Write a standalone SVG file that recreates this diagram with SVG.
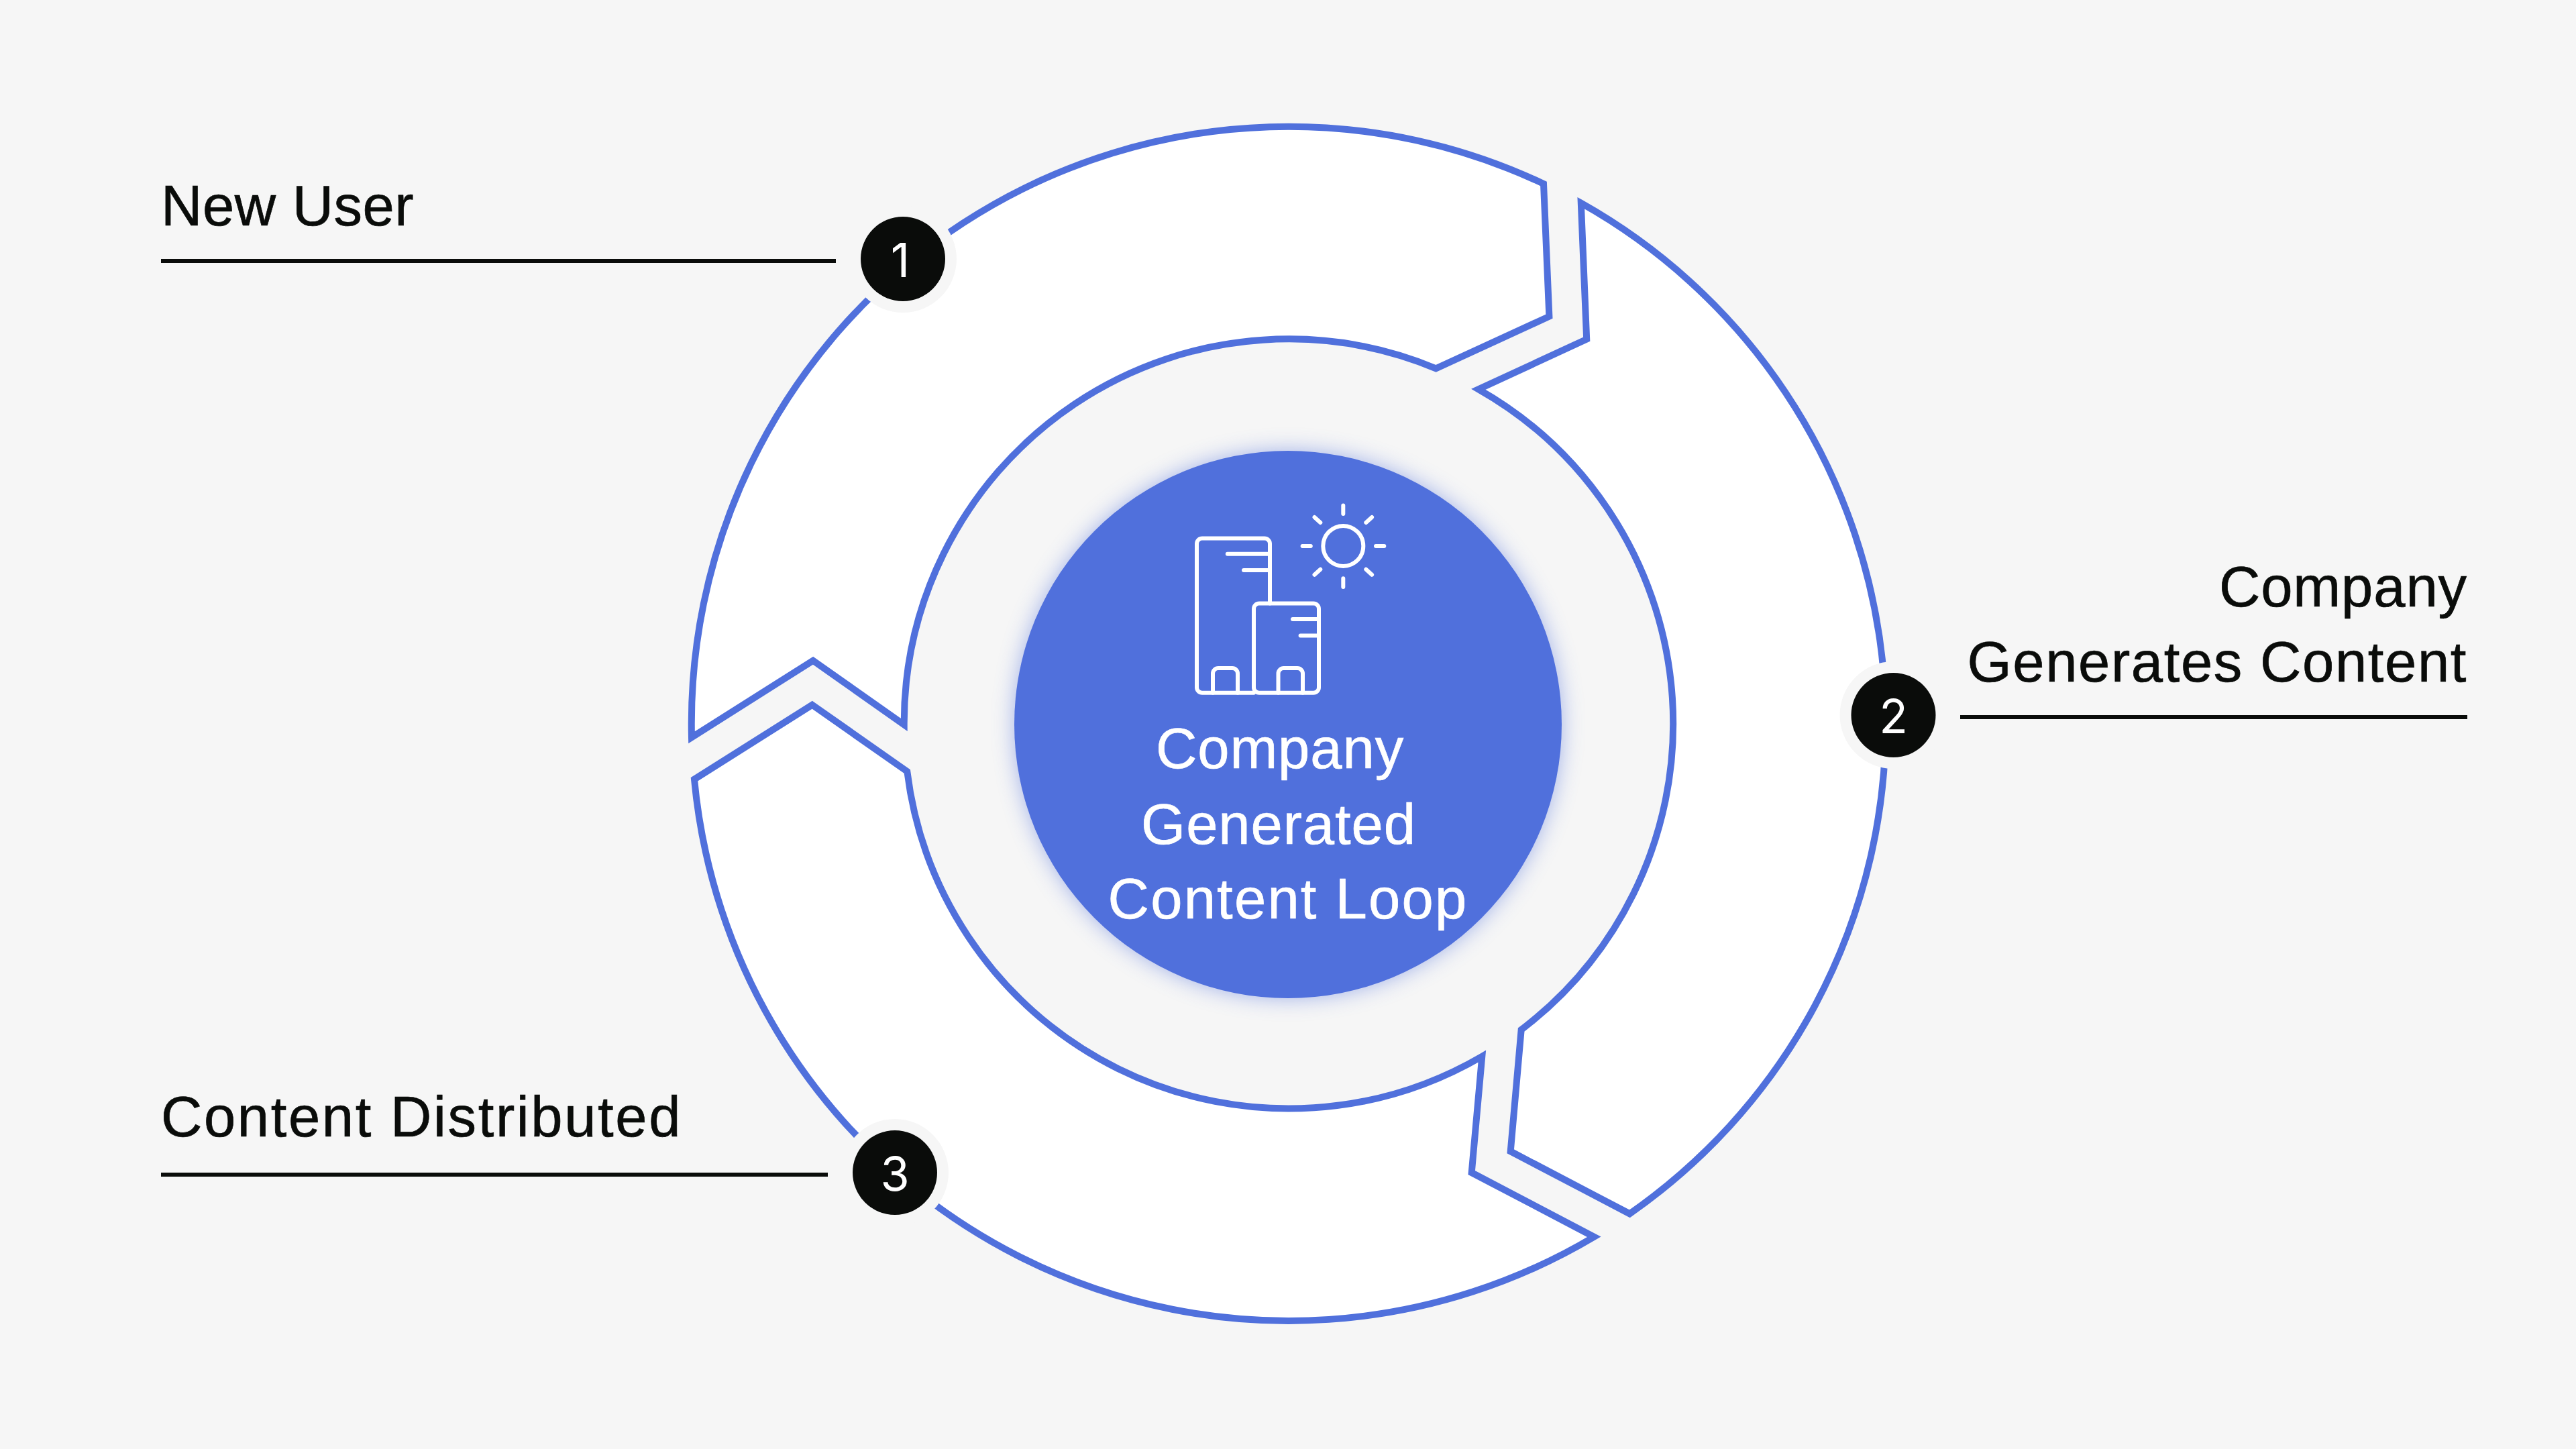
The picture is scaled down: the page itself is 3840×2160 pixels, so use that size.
<svg xmlns="http://www.w3.org/2000/svg" width="3840" height="2160" viewBox="0 0 3840 2160">
<style>
.seg{fill:#fff;stroke:#5070dc;stroke-width:10;stroke-miterlimit:20}
.ink{fill:none;stroke:#fff;stroke-width:6;stroke-linecap:round;stroke-linejoin:round}
.lbl{font-family:"Liberation Sans",Arial,sans-serif;font-size:85px;fill:#0a0c0a;stroke:#0a0c0a;stroke-width:.7px}
.mid{font-family:"Liberation Sans",Arial,sans-serif;font-size:85px;fill:#fff;stroke:#fff;stroke-width:.7px;text-anchor:middle}
.num{font-family:Inter,"Liberation Sans",sans-serif;font-size:70px;fill:#fff;text-anchor:middle}
.halo{fill:#f6f6f6}.dot{fill:#0a0c0a}
.rule{stroke:#0a0c0a;stroke-width:6}
</style>
<defs><filter id="glow" x="-20%" y="-20%" width="140%" height="140%"><feGaussianBlur stdDeviation="16"/></filter></defs>
<rect width="3840" height="2160" fill="#f6f6f6"/>
<g id="connectors">
<line class="rule" x1="240" y1="389" x2="1246" y2="389"/>
<line class="rule" x1="2922" y1="1069" x2="3678" y2="1069"/>
<line class="rule" x1="240" y1="1751" x2="1234" y2="1751"/>
</g>
<g id="ring">
<path id="segment-1" class="seg" d="M2301 274A890 890 0 0 0 1031 1099.3L1212 984.7L1347.7 1080.3A573 573 0 0 1 2140.6 549.3L2309.4 471.7Z"/>
<path id="segment-2" class="seg" d="M2356.8 302.7A890 890 0 0 1 2429.3 1809.3L2251.7 1716.3L2267.7 1535A573 573 0 0 0 2204 580.3L2365.2 505.7Z"/>
<path id="segment-3" class="seg" d="M2376.3 1843.7A890 890 0 0 1 1035 1161.7L1210.7 1050.7L1352.3 1150A573 573 0 0 0 2209.3 1574.7L2193.7 1748Z"/>
</g>
<g id="center">
<circle cx="1920" cy="1080" r="408" fill="#5070dc" opacity=".5" filter="url(#glow)"/>
<circle cx="1920" cy="1080" r="408" fill="#5070dc"/>
<g id="icon">
<path class="ink" d="M1869 1032.7H1792a8 8 0 0 1-8-8V810.5a8 8 0 0 1 8-8H1885a8 8 0 0 1 8 8V899.5"/>
<path class="ink" d="M1877 899.5H1958a8 8 0 0 1 8 8V1024.7a8 8 0 0 1-8 8H1877a8 8 0 0 1-8-8V907.5a8 8 0 0 1 8-8Z"/>
<path class="ink" d="M1829.8 825.8H1893M1854 850H1893M1927 923H1966M1938.6 947.5H1966"/>
<path class="ink" d="M1808 1032.7V1004a8 8 0 0 1 8-8H1837a8 8 0 0 1 8 8V1032.7M1905.5 1032.7V1004a8 8 0 0 1 8-8H1934a8 8 0 0 1 8 8V1032.7"/>
<circle class="ink" cx="2002.3" cy="813.9" r="30"/>
<path class="ink" d="M2002.3 753.5V766M2002.3 862.3V875M1941.6 813.9H1953.8M2051 813.9H2063.3M1959.5 771L1968.3 779M2036.3 779L2045.1 771M1959.5 856.8L1968.3 848.8M2036.3 848.8L2045.1 856.8"/>
</g>
<text class="mid" x="1908" y="1145" letter-spacing="0.9">Company</text>
<text class="mid" x="1906" y="1258" letter-spacing="0.9">Generated</text>
<text class="mid" x="1920" y="1369" letter-spacing="2.2">Content Loop</text>
</g>
<g id="node-1">
<circle class="halo" cx="1346" cy="386" r="80"/><circle class="dot" cx="1346" cy="386" r="63"/>
<text class="num" x="1342" y="412.7">1</text>
<text class="lbl" x="240" y="336" letter-spacing="0.5">New User</text>
</g>
<g id="node-2">
<circle class="halo" cx="2822.5" cy="1066" r="80"/><circle class="dot" cx="2822.5" cy="1066" r="63"/>
<text class="num" x="2822.5" y="1092.7">2</text>
<text class="lbl" x="3678" y="904" text-anchor="end" letter-spacing="0.9">Company</text>
<text class="lbl" x="3678" y="1015.7" text-anchor="end" letter-spacing="1.6">Generates Content</text>
</g>
<g id="node-3">
<circle class="halo" cx="1334" cy="1748" r="80"/><circle class="dot" cx="1334" cy="1748" r="63"/>
<text class="num" x="1334" y="1775">3</text>
<text class="lbl" x="240" y="1694" letter-spacing="2.6">Content Distributed</text>
</g>
</svg>
